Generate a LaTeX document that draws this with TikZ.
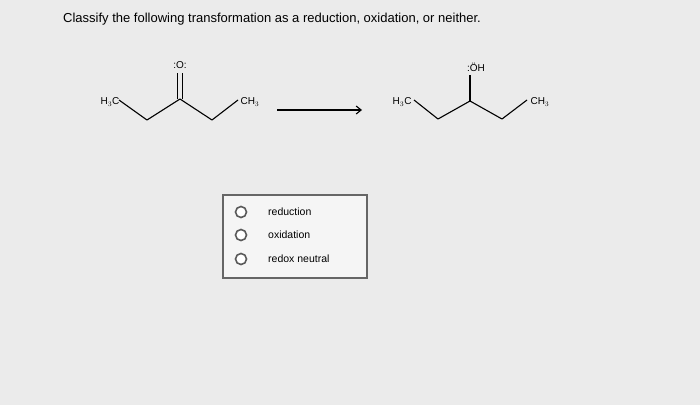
\documentclass[tikz,border=0pt]{standalone}
\usepackage{fontspec}
\setmainfont{Liberation Sans}
\usetikzlibrary{arrows.meta}
\begin{document}
\begin{tikzpicture}[x=1pt,y=-1pt,
  bond/.style={line width=1.1pt,line join=round},
  lbl/.style={font=\fontsize{10}{10}\selectfont,inner sep=0pt},
  opt/.style={font=\fontsize{10.5}{11}\selectfont,anchor=west,inner sep=0pt},
  radio/.style={circle,draw=gray!70!black,line width=1.6pt,fill=white,minimum size=11pt,inner sep=0pt}]
\fill[black!8] (0,0) rectangle (700,405);
\useasboundingbox (0,0) rectangle (700,405);
\node[anchor=west,inner sep=0pt,font=\fontsize{13}{13}\selectfont] (title) at (63,19) {Classify the following transformation as a reduction, oxidation, or neither.};
% left molecule
\node[lbl] (l1) at (110,102) {H$_3$C};
\node[lbl] (l5) at (250,102) {CH$_3$};
\node[lbl] (lo) at (180,65) {:O:};
\coordinate (a1) at (119,100);
\coordinate (a2) at (147,120);
\coordinate (a3) at (180,99);
\coordinate (a4) at (212,120);
\coordinate (a5) at (238,100);
\draw[bond] (a1)--(a2)--(a3)--(a4)--(a5);
\draw[bond] ([xshift=-2.5pt]a3)--(177.5,73);
\draw[bond] ([xshift=2.5pt]a3)--(182.5,73);
% arrow
\coordinate (r1) at (277,110);
\coordinate (r2) at (362,110);
\draw[line width=1.1pt,-{Straight Barb[length=5pt,width=8pt]}] (r1)--(r2);
% right molecule
\node[lbl] (m1) at (402,102) {H$_3$C};
\node[lbl] (m5) at (540,102) {CH$_3$};
\node[lbl] (mo) at (476,67) {:\"OH};
\coordinate (b1) at (414,100);
\coordinate (b2) at (438,119);
\coordinate (b3) at (470,101);
\coordinate (b4) at (502,119);
\coordinate (b5) at (527,100);
\draw[bond] (b1)--(b2)--(b3)--(b4)--(b5);
\draw[bond] (b3)--(470,75);
% answer box
\draw[draw=gray!80!black,fill=black!4,line width=1.4pt] (223,195) rectangle (367,278);
\node[radio] (c1) at (241,212) {};
\node[radio] (c2) at (241,235) {};
\node[radio] (c3) at (241,259) {};
\node[opt] (t1) at (268,212) {reduction};
\node[opt] (t2) at (268,235) {oxidation};
\node[opt] (t3) at (268,259) {redox neutral};
\end{tikzpicture}
\end{document}
